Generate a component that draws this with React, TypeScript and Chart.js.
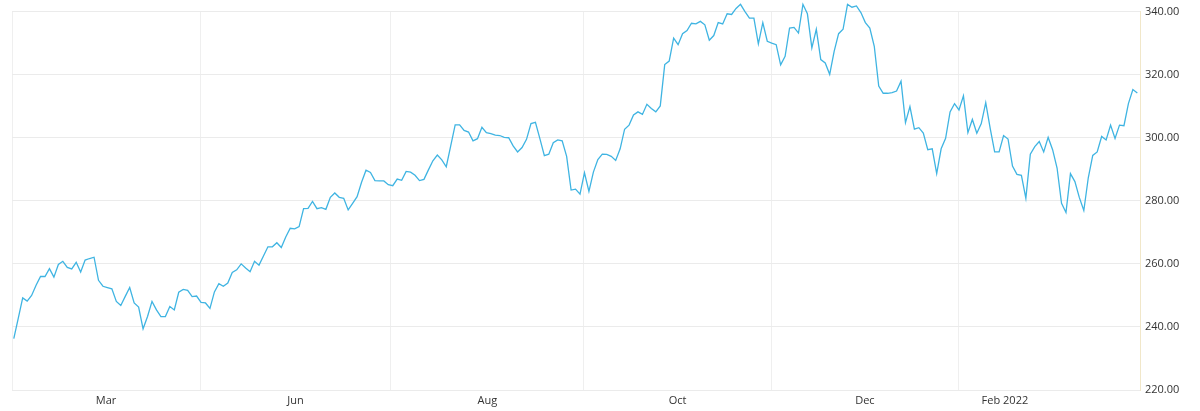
import { useEffect, useRef } from "react";
import { Chart, registerables } from "chart.js";

Chart.register(...registerables);

// daily closes (one per trading day)
const closePrices = [
  236.3, 242.7, 249.2, 248.2, 250.0, 253.2, 256.0, 256.0, 258.5, 255.8,
  259.8, 260.8, 258.9, 258.4, 260.5, 257.4, 261.2, 261.7, 262.1, 254.8,
  252.9, 252.5, 252.1, 248.1, 246.8, 249.7, 252.5, 247.6, 246.3, 239.4,
  243.3, 248.1, 245.4, 243.3, 243.3, 246.5, 245.4, 251.0, 251.9, 251.6,
  249.6, 249.8, 247.8, 247.6, 245.9, 251.1, 253.7, 252.9, 253.9, 257.3,
  258.1, 260.0, 258.7, 257.5, 260.8, 259.6, 262.5, 265.4, 265.4, 266.7,
  265.2, 268.5, 271.3, 271.1, 271.8, 277.5, 277.6, 279.8, 277.5, 277.8,
  277.3, 281.1, 282.5, 281.1, 280.8, 277.1, 279.2, 281.3, 285.9, 289.7,
  289.0, 286.4, 286.3, 286.3, 285.1, 284.8, 286.9, 286.5, 289.3, 289.1,
  288.1, 286.4, 286.8, 289.8, 292.7, 294.5, 293.0, 290.8, 297.4, 304.1,
  304.1, 302.3, 301.8, 299.0, 299.7, 303.3, 301.6, 301.3, 300.8, 300.7,
  300.1, 300.0, 297.4, 295.5, 296.9, 299.5, 304.5, 304.9, 299.7, 294.3,
  294.8, 298.4, 299.3, 299.0, 294.1, 283.4, 283.7, 282.1, 288.9, 283.0,
  289.1, 293.1, 294.8, 294.7, 294.1, 292.8, 296.5, 302.7, 304.0, 307.2,
  308.2, 307.4, 310.6, 309.3, 308.2, 310.1, 323.2, 324.3, 331.6, 329.5,
  333.0, 334.0, 336.3, 336.1, 336.9, 335.8, 330.9, 332.4, 336.5, 336.1,
  339.3, 339.1, 341.0, 342.3, 340.0, 337.9, 337.9, 329.8, 336.5, 330.6,
  330.0, 329.5, 323.1, 325.8, 334.8, 335.0, 333.2, 342.3, 339.3, 328.5,
  334.4, 324.8, 323.7, 320.1, 327.4, 333.0, 334.4, 342.3, 341.4, 341.8,
  339.7, 336.5, 334.8, 329.0, 316.4, 314.1, 314.1, 314.3, 314.8, 317.9,
  304.8, 309.9, 302.7, 303.2, 301.5, 296.2, 296.5, 288.6, 296.5, 299.8,
  308.2, 310.8, 308.8, 313.3, 301.6, 305.8, 301.4, 304.5, 311.1, 303.0,
  295.5, 295.5, 300.7, 299.6, 291.0, 288.4, 288.1, 280.8, 294.8, 297.2,
  298.8, 295.5, 300.1, 296.2, 290.4, 279.2, 276.3, 288.6, 286.1, 281.0,
  276.9, 287.3, 294.4, 295.5, 300.4, 299.3, 304.0, 299.8, 304.0, 303.8,
  310.8, 315.3, 314.2,
];

// x positions are trading-day indexes
const periodGrid = [-0.4, 41.8, 84.6, 127.8, 169.9, 211.8];
const monthTicks = [20.7, 63.2, 106.2, 148.9, 190.9, 222.3];
const monthLabels = ["Mar", "Jun", "Aug", "Oct", "Dec", "Feb 2022"];
const priceTicks = [220, 240, 260, 280, 300, 320, 340];

const X_MIN = -0.4;
const X_MAX = 252.6;
const FONT = { family: "'Open Sans', sans-serif", size: 11 };

export default function App() {
  const canvasRef = useRef<HTMLCanvasElement>(null);

  useEffect(() => {
    const ctx = canvasRef.current?.getContext("2d");
    if (!ctx) return;

    const chart = new Chart(ctx, {
      type: "line",
      data: {
        datasets: [
          {
            label: "Close",
            data: closePrices.map((y, i) => ({ x: i, y })),
            borderColor: "#3fb4e2",
            borderWidth: 1.3,
            pointRadius: 0,
            tension: 0,
            fill: false,
            clip: false,
          },
        ],
      },
      options: {
        animation: false,
        responsive: true,
        maintainAspectRatio: false,
        layout: { padding: { left: 12, top: 8.3, right: 0, bottom: 0 } },
        plugins: {
          legend: { display: false },
          tooltip: { enabled: false },
        },
        scales: {
          x: {
            type: "linear",
            position: "bottom",
            min: X_MIN,
            max: X_MAX,
            afterBuildTicks: (axis: any) => {
              axis.ticks = periodGrid.map((value) => ({ value }));
            },
            afterFit: (axis: any) => {
              axis.height = 0;
            },
            ticks: { display: false },
            grid: { color: "#efefef", drawTicks: false },
            border: { display: false },
          },
          months: {
            type: "linear",
            position: "bottom",
            min: X_MIN,
            max: X_MAX,
            afterBuildTicks: (axis: any) => {
              axis.ticks = monthTicks.map((value) => ({ value }));
            },
            afterFit: (axis: any) => {
              axis.height = 21;
            },
            ticks: {
              autoSkip: false,
              maxRotation: 0,
              minRotation: 0,
              padding: 4,
              color: "#333333",
              font: FONT,
              callback: (_v: any, i: number) => monthLabels[i],
            },
            grid: { display: false, drawTicks: false },
            border: { display: false },
          },
          y: {
            position: "right",
            min: 220,
            max: 340,
            afterBuildTicks: (axis: any) => {
              axis.ticks = priceTicks.map((value) => ({ value }));
            },
            afterFit: (axis: any) => {
              axis.width = 60;
            },
            ticks: {
              padding: 5,
              color: "#333333",
              font: FONT,
              callback: (v: any) => Number(v).toFixed(2),
            },
            grid: { color: "#ebebeb", drawTicks: false },
            border: { color: "#f1e7c9" },
          },
        },
      },
    });

    return () => chart.destroy();
  }, []);

  return (
    <div style={{ position: "fixed", left: 0, top: 0, width: 1200, height: 411, background: "#fff" }}>
      <canvas ref={canvasRef} />
    </div>
  );
}
